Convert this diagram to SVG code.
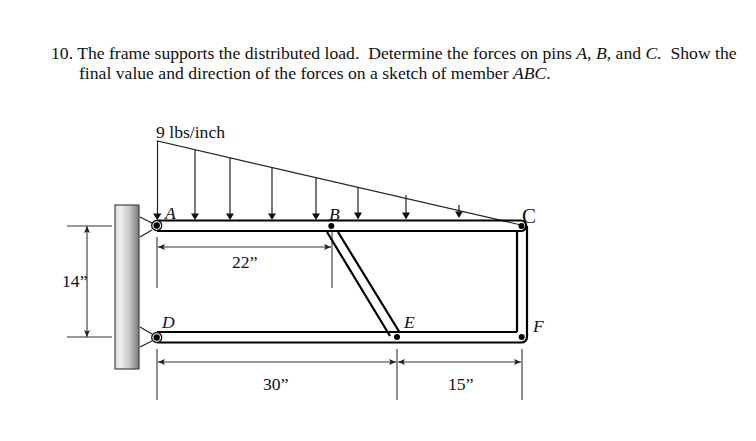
<svg xmlns="http://www.w3.org/2000/svg" width="756" height="441" viewBox="0 0 756 441">
<style>
text{font-family:"Liberation Serif","Times New Roman",serif;font-size:17.65px;fill:#111;white-space:pre}
.i{font-style:italic}
.m{fill:none;stroke:#000;stroke-width:2.2}
.t{fill:none;stroke:#222;stroke-width:1.2}
.d{fill:none;stroke:#333;stroke-width:1.1}
.h{fill:#111;stroke:none}
.r{fill:#fff;stroke:#111;stroke-width:1.3}
</style>
<defs>
<linearGradient id="g" x1="0" y1="0" x2="1" y2="0"><stop offset="0" stop-color="#dedede"/><stop offset=".25" stop-color="#eeeeee"/><stop offset=".6" stop-color="#c8c8c8"/><stop offset="1" stop-color="#777"/></linearGradient>
<marker id="f" markerWidth="8" markerHeight="7" refX="7" refY="3.500" orient="auto-start-reverse" markerUnits="userSpaceOnUse"><path d="M0 0.500L7 3.500L0 6.500L1.500 3.500Z" fill="#222"/></marker>
</defs>
<rect width="756" height="441" fill="#fff"/>
<g id="problem">
<text x="51" y="59">10. The frame supports the distributed load.  Determine the forces on pins <tspan class="i">A, B,</tspan> and <tspan class="i">C.</tspan>  Show the</text>
<text x="79" y="79">final value and direction of the forces on a sketch of member <tspan class="i">ABC</tspan>.</text>
</g>
<g id="wall"><rect x="115" y="205" width="24" height="164" fill="url(#g)" stroke="#444" stroke-width="1.2"/></g>
<g id="connectors">
<path class="t" d="M157.500 219V141L521 225"/>
<path class="t" d="M195 149.500V216M230 157.500V216M272 167V216M316 177V216M358 187V216M406 195V216M459 205V214"/>
<g class="h">
<path d="M153 213.500h8.500l-4.200 6.500zM191 213.500h8l-4 6.500zM226 213.500h8l-4 6.500zM268 213.500h8l-4 6.500zM312 213.500h8l-4 6.500zM354 212.500h8l-4 7zM402 212.500h8l-4 7zM455 211.500h8l-4 6.500z"/>
</g>
<path class="t" d="M140 217L152 223M140 237L152 230M140 327L152 334M140 347L152 341"/>
<path class="d" d="M67 226H112M67 337H112"/>
<path class="d" d="M87 226V337" marker-start="url(#f)" marker-end="url(#f)"/>
<path class="d" d="M157 237V288M332 232V288M157 349V400M397 349V400M522 349V400"/>
<path class="d" d="M158 247H331" marker-start="url(#f)" marker-end="url(#f)"/>
<path class="d" d="M158 362H396" marker-start="url(#f)" marker-end="url(#f)"/>
<path class="d" d="M398 362H521" marker-start="url(#f)" marker-end="url(#f)"/>
</g>
<g id="member-abc"><path class="m" d="M157 220.500H521A5.200 5.200 0 0 1 521 231H157"/></g>
<g id="member-cf"><path class="m" d="M517 231V332M527 226V337"/></g>
<g id="member-def"><path class="m" d="M157 332H517M527 337A5.500 5.500 0 0 1 521.500 342.500H157"/></g>
<g id="member-be"><path class="m" d="M327 232L390 336M338 232L400 333"/></g>
<g id="pin-A"><circle class="r" cx="156.700" cy="225.500" r="5"/><circle cx="156.700" cy="225.500" r="3.200"/><text class="i" x="165" y="219">A</text></g>
<g id="pin-B"><circle cx="331.300" cy="226" r="3"/><text class="i" x="329" y="220">B</text></g>
<g id="pin-C"><circle cx="521.500" cy="226" r="3"/><text x="522" y="223" style="font-size:21px">C</text></g>
<g id="pin-D"><circle class="r" cx="156.700" cy="337.500" r="5"/><circle cx="156.700" cy="337.500" r="3.200"/><text class="i" x="162" y="328">D</text></g>
<g id="pin-E"><circle cx="397" cy="337" r="3"/><text class="i" x="404" y="328">E</text></g>
<g id="pin-F"><circle cx="521.700" cy="337" r="3"/><text class="i" x="533" y="332">F</text></g>
<g id="labels">
<text x="156" y="138">9 lbs/inch</text>
<text x="232" y="268">22”</text>
<text x="62" y="287">14”</text>
<text x="263" y="390">30”</text>
<text x="448" y="390">15”</text>
</g>
</svg>
